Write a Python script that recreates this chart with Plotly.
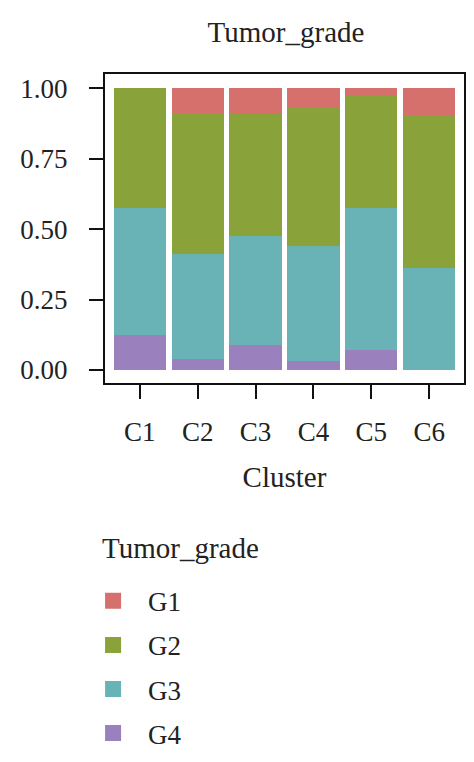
import plotly.graph_objects as go

clusters = ["C1", "C2", "C3", "C4", "C5", "C6"]
grades = ["G1", "G2", "G3", "G4"]
g1 = [0.000, 0.089, 0.093, 0.072, 0.026, 0.095]
g2 = [0.425, 0.500, 0.431, 0.489, 0.401, 0.542]
g3 = [0.452, 0.371, 0.387, 0.406, 0.501, 0.363]
g4 = [0.123, 0.040, 0.089, 0.033, 0.072, 0.000]
y_ticks = [0.0, 0.25, 0.5, 0.75, 1.0]
y_tick_labels = ["0.00", "0.25", "0.50", "0.75", "1.00"]

series = {"G1": g1, "G2": g2, "G3": g3, "G4": g4}
colors = {"G1": "#D6706D", "G2": "#8AA23A", "G3": "#69B3B6", "G4": "#9A80BC"}

FONT = "Liberation Serif"
TXT = "#222222"

fig = go.Figure()
# stack from bottom: G4, G3, G2, G1
for g in ["G4", "G3", "G2", "G1"]:
    fig.add_trace(go.Bar(x=clusters, y=series[g], name=g, marker_color=colors[g],
                         marker_line_width=0, width=0.9, showlegend=False))
# legend entries
for g in grades:
    fig.add_trace(go.Scatter(x=[None], y=[None], mode="markers", name=g,
                             legendgroup=g,
                             marker=dict(symbol="square", size=18, color=colors[g])))

fig.update_layout(
    width=474, height=762,
    barmode="stack",
    bargap=0.1,
    plot_bgcolor="white", paper_bgcolor="white",
    margin=dict(l=97, r=18, t=66, b=377),
    font=dict(family=FONT, size=27, color=TXT),
    title=dict(text="Tumor_grade", x=(278 / 474), xanchor="center", y=1 - 24 / 762,
               yanchor="middle", font=dict(family=FONT, size=29, color=TXT)),
    legend=dict(
        orientation="v", x=-0.075, xanchor="left", y=-0.627, yanchor="top",
        font=dict(family=FONT, size=27, color=TXT),
        tracegroupgap=6, itemsizing="trace", itemwidth=60,
    ),
    annotations=[dict(text="Tumor_grade", xref="paper", yref="paper",
                      x=(92 - 97) / 359, xanchor="left",
                      y=(385 - 555) / 319, yanchor="middle", showarrow=False,
                      font=dict(family=FONT, size=29, color=TXT))],
)
fig.update_xaxes(
    range=[-0.6, 5.6], showline=True, linecolor="#111111", linewidth=2, mirror=True,
    ticks="outside", ticklen=14, tickwidth=2, tickcolor="#111111",
    ticklabelstandoff=10,
    title=dict(text="Cluster", standoff=20, font=dict(family=FONT, size=29, color=TXT)),
    showgrid=False, zeroline=False,
)
fig.update_yaxes(
    range=[-0.046, 1.05], showline=True, linecolor="#111111", linewidth=2, mirror=True,
    ticks="outside", ticklen=14, tickwidth=2, tickcolor="#111111",
    tickvals=y_ticks, ticktext=y_tick_labels, ticklabelstandoff=16,
    showgrid=False, zeroline=False,
)

fig.write_html("out.html")
